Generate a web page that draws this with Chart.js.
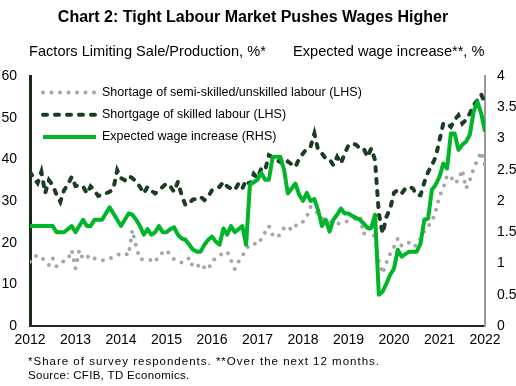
<!DOCTYPE html>
<html>
<head>
<meta charset="utf-8">
<script src="https://cdn.jsdelivr.net/npm/chart.js@4"></script>
<style>
  html, body { margin: 0; padding: 0; background: #fff; }
  #wrap { width: 516px; height: 386px; }
</style>
</head>
<body>
<div id="wrap"><canvas id="wageChart" width="516" height="386"></canvas></div>
<script>
// monthly data, Jan 2012 onwards
const startYear = 2012;
const endYear = 2022;

const semiSkilled = [
  15.4,16.5,17,16.5,15.5,14.6,16.3,14.3,15,15.6,16,18.2,
  13.8,18.2,16,16.5,17,16.2,15.8,15.8,15.8,16.2,16.6,17,
  17.4,17.5,17,23,19,16,16,16,15.8,15.3,17,17.6,
  18.2,17,16,15.8,15.2,15.5,16.4,14.1,14.2,15,14,13.5,
  15.6,16.2,16.8,17.6,17.8,15.8,13.7,15.4,16.8,18.4,19.6,19.8,
  19.5,20.8,22.5,24,21.8,21.2,22,23.5,24,23,24,25,
  25,26.2,28.6,27.8,27,26,25.2,25,24.8,24.6,24.6,25,
  25.2,25.6,25.8,26.4,22,23.5,23,21,15.5,12.6,15.2,17.4,
  19,21,19.2,19.8,20,19,19.4,21,22.8,24,25,27.6,
  31.2,33,36.2,35.8,34.2,35,37.5,33,35,37.8,39.8,41.8,
  38.5
];

const skilled = [
  37,35.5,34.3,37,31.9,35,33.8,31.5,29.8,32.6,34,35.8,
  33.6,33.8,33.5,31.8,33.5,32.5,31.2,31.5,31.8,32.2,33,37.4,
  35.5,35,36,35.5,34.6,33.4,31.8,33.4,32.5,31.8,32.6,33.4,
  34.2,33.5,32.2,34.6,31.4,29,29.5,30.4,30.5,31,30.2,31,
  32.6,33,33.4,34.6,33.5,33,32.6,34.2,33,35,34,36.5,
  35.5,37.8,37.4,41,40.5,39.8,39.4,38.6,39.5,38.8,38.2,40.2,
  41.4,42.6,43,46.2,42.2,41.4,40.2,40,38.6,40.6,39,41.4,
  43.4,43.8,43.5,42.6,42.6,40.6,42.6,39.8,27,22.2,26.2,28.2,
  32,32.6,31.8,33,33.4,33,31.4,31.4,34.5,37,38.6,40.6,
  44.6,48.6,48.6,47.8,49.5,50.6,48.6,49.5,51,53,54.2,55.6,
  53.4
];

const wageExpect = [
  1.6,1.6,1.6,1.6,1.6,1.6,1.6,1.5,1.5,1.5,1.55,1.6,
  1.5,1.6,1.7,1.6,1.6,1.7,1.7,1.7,1.8,1.9,1.8,1.7,
  1.6,1.7,1.8,1.78,1.7,1.6,1.46,1.55,1.46,1.5,1.6,1.5,
  1.5,1.55,1.58,1.46,1.4,1.38,1.3,1.22,1.19,1.19,1.3,1.38,
  1.43,1.35,1.3,1.56,1.46,1.6,1.5,1.55,1.6,1.3,2.26,2.3,
  2.34,2.45,2.34,2.34,2.7,2.71,2.71,2.5,2.12,2.2,2.28,2.1,
  2.0,2.13,2.0,2.03,1.85,1.6,1.7,1.51,1.7,1.78,1.88,1.8,
  1.8,1.76,1.73,1.7,1.64,1.57,1.57,1.78,0.5,0.55,0.68,0.82,
  0.92,1.22,1.11,1.15,1.19,1.19,1.19,1.32,1.7,1.72,2.18,2.26,
  2.39,2.6,2.52,3.08,3.08,2.82,2.9,2.95,3.06,3.43,3.59,3.4,
  3.11
];

const leftMax = 60, leftStep = 10;
const rightMax = 4, rightStep = 0.5;

const chartTitle = 'Chart 2: Tight Labour Market Pushes Wages Higher';
const leftAxisTitle = 'Factors Limiting Sale/Production, %*';
const rightAxisTitle = 'Expected wage increase**, %';
const footNote = '*Share of survey respondents. **Over the next 12 months.';
const sourceNote = 'Source: CFIB, TD Economics.';

const FONT = '"Liberation Sans", Arial, sans-serif';

// month index -> decimal year
const toPoints = arr => arr.map((v, i) => ({ x: startYear + i / 12, y: v }));

// titles, notes and the in-plot legend
const textPlugin = {
  id: 'staticText',
  afterDraw(chart) {
    const ctx = chart.ctx;
    ctx.save();
    ctx.fillStyle = '#000';
    ctx.textBaseline = 'middle';

    ctx.font = 'bold 16px ' + FONT;
    ctx.textAlign = 'center';
    ctx.fillText(chartTitle, 253, 18);

    ctx.font = '14.6px ' + FONT;
    ctx.textAlign = 'left';
    ctx.fillText(leftAxisTitle, 29, 52);
    ctx.fillText(rightAxisTitle, 293, 52);

    ctx.font = '11.5px ' + FONT;
    ctx.letterSpacing = '1px';
    ctx.fillText(footNote, 28, 362);
    ctx.letterSpacing = '0.3px';
    ctx.fillText(sourceNote, 28, 376);
    ctx.letterSpacing = '0px';

    ctx.font = '12.5px ' + FONT;
    chart.data.datasets.forEach((ds, k) => {
      const y = 92.5 + k * 22.2;
      ctx.beginPath();
      ctx.strokeStyle = ds.borderColor;
      ctx.lineWidth = ds.borderWidth;
      ctx.lineCap = ds.borderCapStyle || 'butt';
      ctx.setLineDash(ds.borderDash || []);
      ctx.moveTo(43, y);
      ctx.lineTo(96, y);
      ctx.stroke();
      ctx.setLineDash([]);
      ctx.fillText(ds.label, 102, y);
    });
    ctx.restore();
  }
};

const noGrid = { display: false, drawTicks: false, tickLength: 0 };

const ctx = document.getElementById('wageChart').getContext('2d');
new Chart(ctx, {
  type: 'line',
  data: {
    datasets: [{
      label: 'Shortage of semi-skilled/unskilled labour (LHS)',
      data: toPoints(semiSkilled),
      yAxisID: 'y',
      borderColor: '#a6a6a6',
      borderWidth: 4,
      borderDash: [0, 8.5],
      borderCapStyle: 'round',
      order: 3
    }, {
      label: 'Shortgage of skilled labour (LHS)',
      data: toPoints(skilled),
      yAxisID: 'y',
      borderColor: '#1b3d24',
      borderWidth: 4,
      borderDash: [4, 8],
      borderCapStyle: 'round',
      order: 2
    }, {
      label: 'Expected wage increase (RHS)',
      data: toPoints(wageExpect),
      yAxisID: 'y1',
      borderColor: '#00b52a',
      borderWidth: 4,
      borderJoinStyle: 'round',
      order: 1
    }]
  },
  options: {
    responsive: false,
    animation: false,
    devicePixelRatio: 1,
    layout: { padding: { top: 76, left: 0, right: 0, bottom: 0 } },
    elements: { point: { radius: 0 }, line: { tension: 0 } },
    plugins: {
      legend: { display: false },
      tooltip: { enabled: false }
    },
    scales: {
      x: {
        type: 'linear',
        min: startYear,
        max: endYear,
        grid: noGrid,
        border: { display: true, color: '#1c2a1c', width: 2 },
        ticks: {
          stepSize: 1,
          autoSkip: false,
          maxRotation: 0,
          padding: 6,
          color: '#000',
          font: { family: FONT, size: 14 },
          callback: v => String(v)
        },
        afterFit: s => { s.height = 60; }
      },
      y: {
        position: 'left',
        min: 0,
        max: leftMax,
        grid: noGrid,
        border: { display: true, color: '#1c2a1c', width: 3 },
        ticks: {
          stepSize: leftStep,
          padding: 13,
          color: '#000',
          font: { family: FONT, size: 14 }
        },
        afterFit: s => { s.width = 30; }
      },
      y1: {
        position: 'right',
        min: 0,
        max: rightMax,
        grid: noGrid,
        border: { display: true, color: '#999999', width: 2 },
        ticks: {
          stepSize: rightStep,
          padding: 12,
          color: '#000',
          font: { family: FONT, size: 14 },
          callback: v => String(v)
        },
        afterFit: s => { s.width = 31; }
      }
    }
  },
  plugins: [textPlugin]
});
</script>
</body>
</html>
